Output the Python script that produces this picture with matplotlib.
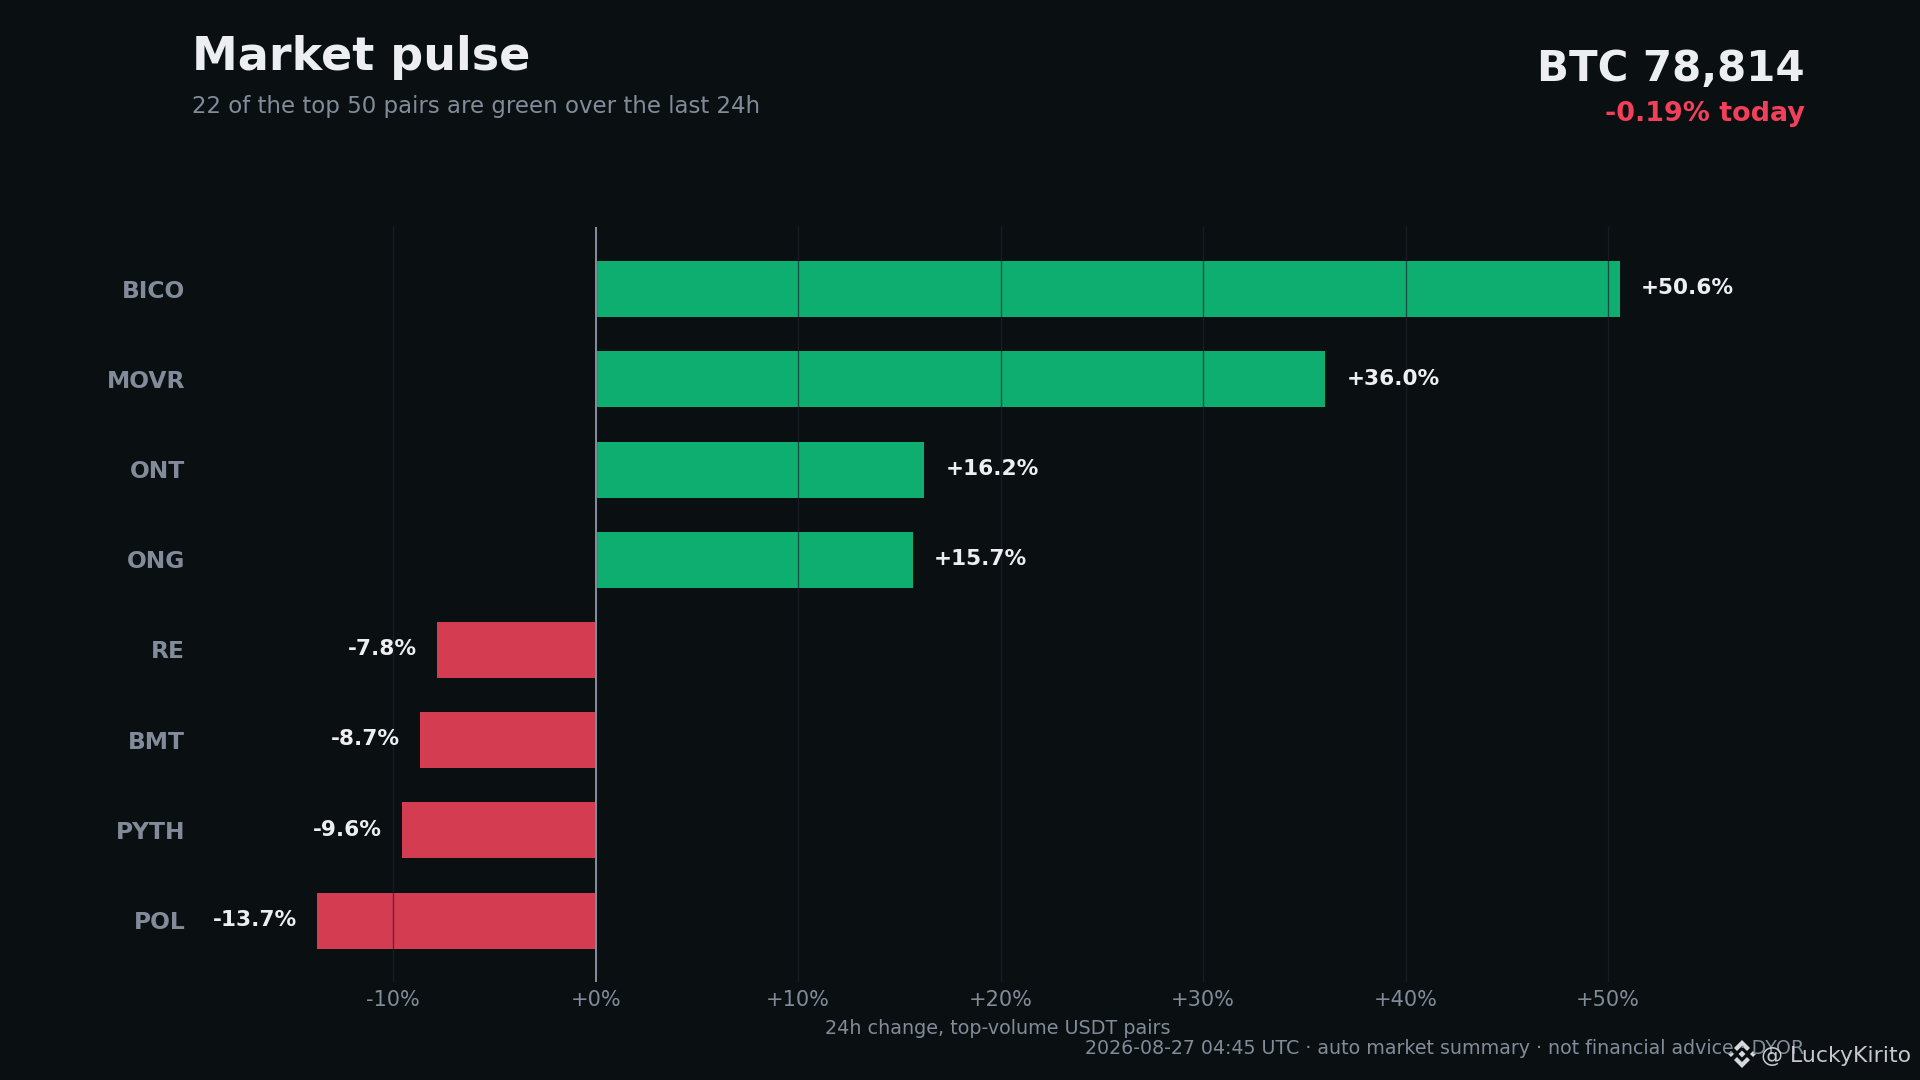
import matplotlib
matplotlib.use('Agg')
import matplotlib.pyplot as plt
from matplotlib.patches import Polygon
from matplotlib.transforms import ScaledTranslation

symbols = ['BICO', 'MOVR', 'ONT', 'ONG', 'RE', 'BMT', 'PYTH', 'POL']
changes = [50.58, 36.04, 16.24, 15.66, -7.84, -8.66, -9.56, -13.74]
xticks = [-10, 0, 10, 20, 30, 40, 50]
xticklabels = ['-10%', '+0%', '+10%', '+20%', '+30%', '+40%', '+50%']

BG = '#0a0f12'
GREEN = '#0eae70'
RED = '#d43c52'
MUTED = '#828b99'
WHITE = '#eceef2'

fig = plt.figure(figsize=(16, 9), dpi=120, facecolor=BG)
ax = fig.add_axes([192 / 1920, 1 - 982 / 1080, 1612 / 1920, 755 / 1080], facecolor=BG)

y = list(range(len(symbols)))
colors = [GREEN if c >= 0 else RED for c in changes]
ax.barh(y, changes, height=0.62, color=colors, zorder=2)
ax.set_ylim(7.68, -0.69)
ax.set_xlim(-19.93, 59.67)

# grid sits on top of the bars in the original
ax.set_xticks(xticks)
ax.set_xticklabels(xticklabels)
ax.grid(axis='x', color='#1e242c', alpha=0.7, linewidth=0.8, zorder=3)
ax.set_axisbelow(False)
ax.axvline(0, color=MUTED, linewidth=1.2, zorder=4)

ax.set_yticks(y)
ax.set_yticklabels(symbols, fontweight='bold', fontsize=14, va='center')
ax.tick_params(axis='y', length=0, colors=MUTED, pad=4)
ax.tick_params(axis='x', length=0, colors=MUTED, labelsize=12.5, pad=5)
# nudge the symbol names down a touch
nudge = ScaledTranslation(0, -1.8 / 120, fig.dpi_scale_trans)
for lab in ax.get_yticklabels():
    lab.set_transform(lab.get_transform() + nudge)
for s in ax.spines.values():
    s.set_visible(False)

for i, c in enumerate(changes):
    offset = 1.05 if c >= 0 else -1.0
    ax.text(c + offset, i - 0.01, f'{c:+.1f}%', color=WHITE, fontsize=13, fontweight='bold',
            va='center', ha='left' if c >= 0 else 'right', zorder=5)

fig.text(192 / 1920, 1 - 57 / 1080, 'Market pulse', color=WHITE, fontsize=27.6, fontweight='bold', va='center')
fig.text(192 / 1920, 1 - 106 / 1080, '22 of the top 50 pairs are green over the last 24h',
         color=MUTED, fontsize=13.7, va='center')
fig.text(1805 / 1920, 1 - 69 / 1080, 'BTC 78,814', color=WHITE, fontsize=25.1, fontweight='bold',
         va='center', ha='right')
fig.text(1805 / 1920, 1 - 114 / 1080, '-0.19% today', color='#f23f5a', fontsize=16.2, fontweight='bold',
         va='center', ha='right')
fig.text(998 / 1920, 1 - 1028 / 1080, '24h change, top-volume USDT pairs', color=MUTED, fontsize=11.45,
         va='center', ha='center')
fig.text(1804 / 1920, 1 - 1048 / 1080, '2026-08-27 04:45 UTC · auto market summary · not financial advice · DYOR',
         color=MUTED, fontsize=11.4, va='center', ha='right')
fig.text(1911 / 1920, 1 - 1056 / 1080, '@ LuckyKirito', color='#d5d8dd', alpha=0.92, fontsize=13.2,
         va='center', ha='right')


# small diamond logo next to the handle, pixel outline pieces around its centre
def logo_piece(pts, cx=1742, cy=1054):
    fig.add_artist(Polygon([((cx + px) / 1920, 1 - (cy + py) / 1080) for px, py in pts], closed=True,
                           transform=fig.transFigure, facecolor='#d5d8dd', edgecolor='none'))


logo_piece([(0, -14), (8, -6), (5, -3), (0, -8), (-5, -3), (-8, -6)])
logo_piece([(0, 14), (8, 6), (5, 3), (0, 8), (-5, 3), (-8, 6)])
logo_piece([(-14, 0), (-11, -3), (-8, 0), (-11, 3)])
logo_piece([(14, 0), (11, -3), (8, 0), (11, 3)])
logo_piece([(0, -3.5), (3.5, 0), (0, 3.5), (-3.5, 0)])

fig.savefig('out.png', dpi=120, facecolor=BG)
